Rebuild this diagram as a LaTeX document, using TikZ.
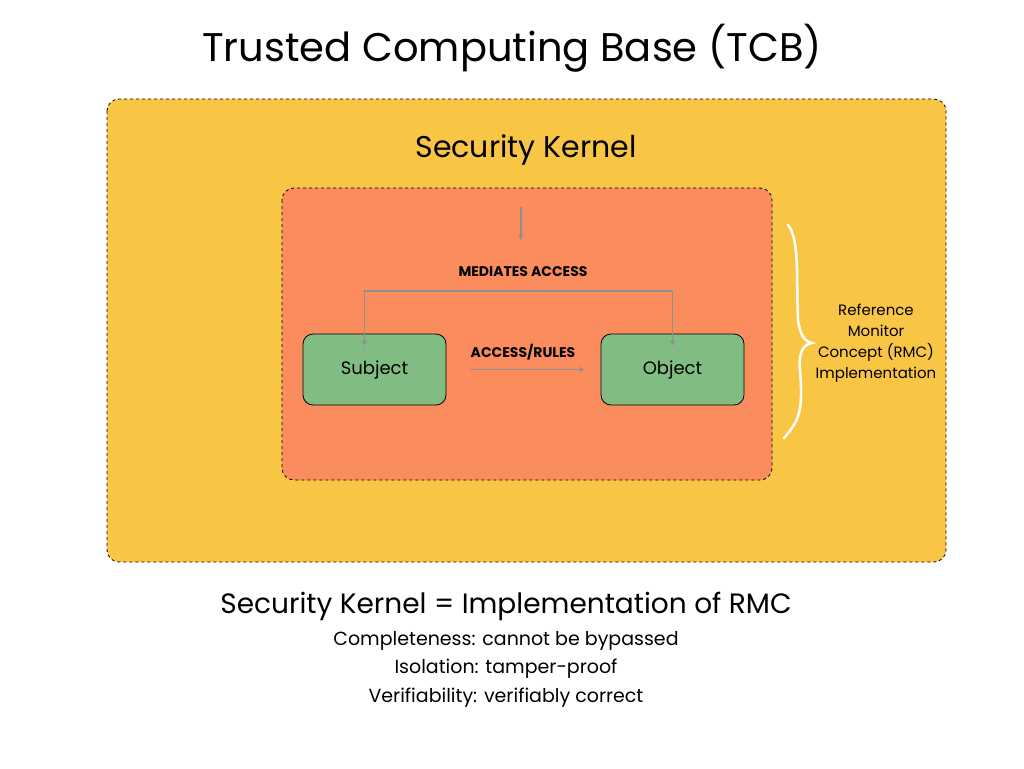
\documentclass[tikz,border=0pt]{standalone}
\usepackage{fontspec}
\setmainfont{Poppins}
\usetikzlibrary{arrows.meta, positioning}
\definecolor{tcbyellow}{HTML}{F9C544}
\definecolor{kernelorange}{HTML}{FB8C5E}
\definecolor{entitygreen}{HTML}{81BD82}
\definecolor{flowgray}{HTML}{8F8F8F}

\begin{document}
\begin{tikzpicture}[x=1pt,y=-1pt,
    >={Triangle[length=5pt,width=5pt]},
    zone/.style={draw=black,thick,dashed,rounded corners=12pt},
    entity/.style={draw=black,thick,fill=entitygreen,rounded corners=10pt,
        minimum width=143pt,minimum height=71pt,font=\fontsize{18}{20}\selectfont},
    flow/.style={->,draw=flowgray,line width=1.5pt},
    tag/.style={font=\fontsize{14}{16}\selectfont\bfseries}]

    \useasboundingbox (0,0) rectangle (1024,768);

    \node (title) at (512,48) {\fontsize{40}{44}\selectfont Trusted Computing Base (TCB)};

    \draw[zone,fill=tcbyellow] (107,99) rectangle (946,562);
    \node (kernel) at (526,150) {\fontsize{30}{34}\selectfont Security Kernel};
    \draw[zone,fill=kernelorange] (282,188) rectangle (772,480);

    \node[entity] (subject) at (374.5,369.5) {Subject};
    \node[entity] (object)  at (672.5,369.5) {Object};

    % mediation from the kernel down to both sides
    \coordinate (entry) at (521,207);
    \coordinate (gate)  at (521,240);
    \draw[flow] (entry) -- (gate);
    \node[tag] (mediates) at (523,272) {MEDIATES ACCESS};
    \coordinate (split) at (521,291);
    \draw[flow] (split) -| ([xshift=-10pt,yshift=-12pt]subject.north);
    \draw[flow] (split) -| ([yshift=-12pt]object.north);

    \node[tag] (rules) at (523,352) {ACCESS/RULES};
    \draw[flow] ([xshift=24pt]subject.east) -- ([xshift=-16pt]object.west);

    % brace for the monitor
    \draw[white,line width=2.5pt,line cap=round]
        (788,225) .. controls (800,240) and (796,280) .. (798,320)
        .. controls (800,335) and (805,342) .. (812,343)
        .. controls (805,344) and (798,350) .. (800,370)
        .. controls (803,410) and (800,420) .. (784,438);
    \node[align=center,font=\fontsize{15}{21}\selectfont] (rmc) at (876,343)
        {Reference\\Monitor\\Concept (RMC)\\Implementation};

    \node (summary) at (506,606) {\fontsize{28}{32}\selectfont Security Kernel = Implementation of RMC};
    \node[align=center,font=\fontsize{19}{28.5}\selectfont,below=4pt of summary] (props)
        {Completeness: cannot be bypassed\\Isolation: tamper-proof\\Verifiability: verifiably correct};
\end{tikzpicture}
\end{document}
